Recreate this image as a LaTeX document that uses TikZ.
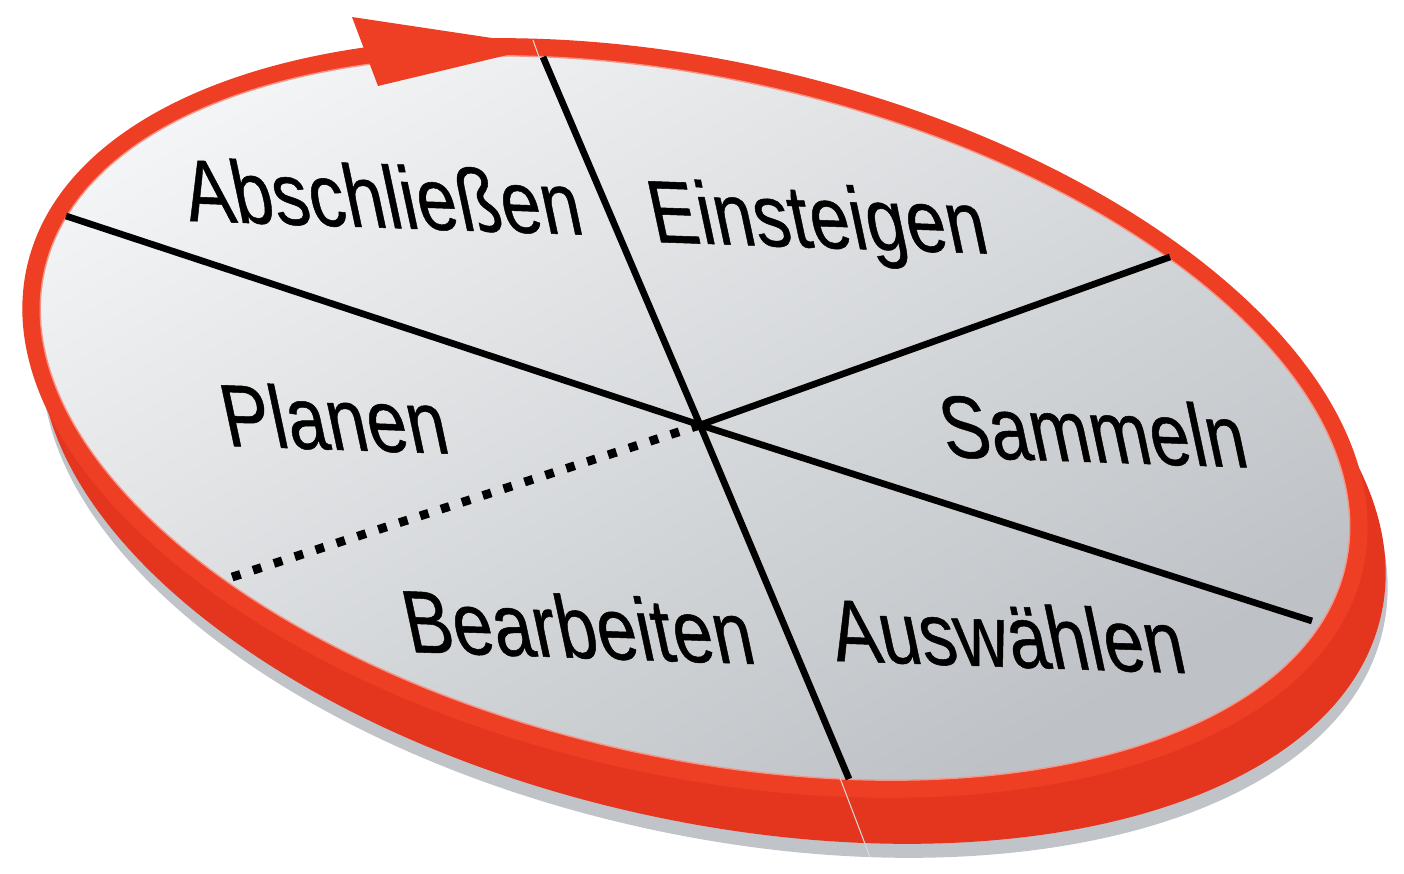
\documentclass[tikz,border=0pt]{standalone}
\usepackage{fontspec}
\setmainfont{Liberation Sans}
\newfontfamily\phasefont[FakeBold=0.6]{Liberation Sans}
\definecolor{rimred}{RGB}{238,62,36}
\definecolor{sidered}{RGB}{228,54,30}
\definecolor{plategray}{RGB}{192,196,200}
\definecolor{facelight}{RGB}{244,245,246}
\definecolor{facedark}{RGB}{190,194,198}
\tikzset{
    % the disc is a tilted ellipse, #1 is its centre
    disc/.style={shift={#1}, rotate=-12.8},
    spoke/.style={line width=3.8pt},
    dotspoke/.style={line width=5pt, dash pattern=on 5pt off 7.5pt},
    seam/.style={white!70!gray, line width=0.6pt},
    phase/.style={inner sep=0pt, anchor=base west, rotate=-2, xslant=-0.25,
                  xscale=0.82, font=\phasefont\fontsize{50}{60}\selectfont}
}
\begin{document}
\begin{tikzpicture}[x=0.02cm, y=0.02cm]
  \useasboundingbox (0,0) rectangle (1404,-874);

  % base plate and side of the rim
  \fill[plategray, disc={(715,-478)}] (0,0) ellipse [x radius=685, y radius=357];
  \fill[sidered, disc={(713,-464)}] (0,0) ellipse [x radius=685, y radius=357];
  % top of the rim and the face
  \fill[rimred, disc={(695,-418)}] (0,0) ellipse [x radius=685, y radius=357];
  \shade[disc={(695,-418)}, top color=facelight, bottom color=facedark,
         shading angle=30] (0,0) ellipse [x radius=667, y radius=339];
  \draw[rimred!55!white, line width=0.8pt, disc={(695,-418)}]
    (0,0) ellipse [x radius=667, y radius=339];

  % arrow head on the rim
  \fill[rimred] (352,-17) -- (545,-46) -- (378,-86) -- cycle;
  \draw[seam] (533,-40) -- (539,-57);
  \draw[seam] (840,-778) -- (870,-857);

  % spokes
  \coordinate (ctr) at (700,-425);
  \coordinate (rimN) at (543,-57);
  \coordinate (rimS) at (849,-779);
  \coordinate (rimNW) at (66,-216);
  \coordinate (rimSE) at (1312,-621);
  \coordinate (rimNE) at (1170,-257);
  \coordinate (rimSW) at (220,-581);

  \draw[spoke] (rimN) -- (ctr) -- (rimS);
  \draw[spoke] (rimNW) -- (ctr) -- (rimSE);
  \draw[spoke] (rimNE) -- (ctr);
  \draw[dotspoke] (ctr) -- (rimSW);

  % phases
  \node[phase] (abschl) at (190,-221) {Abschließen};
  \node[phase] (einst) at (655,-242) {Einsteigen};
  \node[phase] (planen) at (228,-446) {Planen};
  \node[phase] (sammeln) at (947,-457) {Sammeln};
  \node[phase] (bearb) at (410,-652) {Bearbeiten};
  \node[phase] (ausw) at (837,-661) {Auswählen};

\end{tikzpicture}
\end{document}
